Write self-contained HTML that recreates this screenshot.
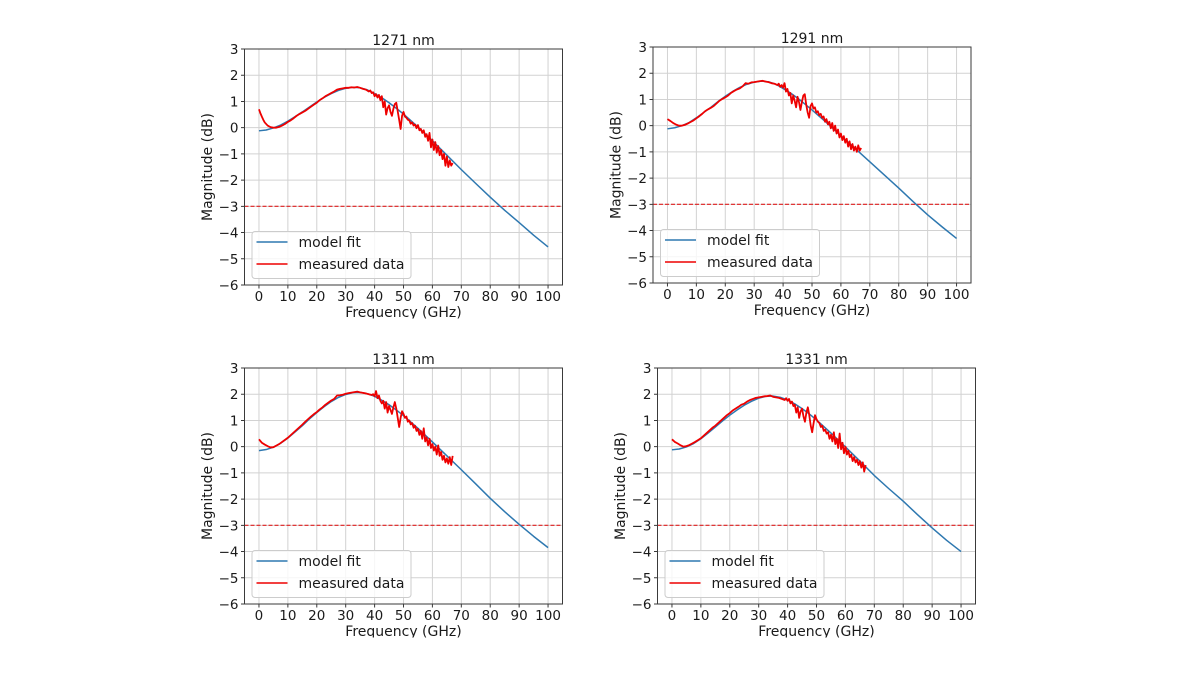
<!DOCTYPE html>
<html><head><meta charset="utf-8"><style>
html,body{margin:0;padding:0;background:#fff;}
svg{display:block;}
text{font-family:"DejaVu Sans","Liberation Sans",sans-serif;fill:#1a1a1a;}
.tk{font-size:13.5px;}
.lb{font-size:14px;}
.grid{stroke:#d2d2d2;stroke-width:1;fill:none;}
.spine{stroke:#3a3a3a;stroke-width:1;fill:none;}
.tick{stroke:#3a3a3a;stroke-width:1;}
.model{fill:none;stroke:#2e78b0;stroke-width:1.5;stroke-linejoin:round;}
.meas{fill:none;stroke:#ee0000;stroke-width:1.8;stroke-linejoin:round;}
.dash{stroke:#e02020;stroke-width:1.2;stroke-dasharray:4,2;}
</style></head><body>
<svg width="1200" height="676" viewBox="0 0 1200 676" xmlns="http://www.w3.org/2000/svg">
<defs>
<clipPath id="xlclip"><rect x="-80" y="200" width="480" height="69.5"/></clipPath>
</defs>
<rect width="1200" height="676" fill="#fff"/>

<!-- ================= PLOT 1 ================= -->
<g transform="translate(244.5,49)">
<path class="grid" d="M14.46,0V236M43.37,0V236M72.28,0V236M101.19,0V236M130.10,0V236M159.01,0V236M187.91,0V236M216.82,0V236M245.73,0V236M274.64,0V236M303.55,0V236M0,26.22H318M0,52.44H318M0,78.67H318M0,104.89H318M0,131.11H318M0,157.33H318M0,183.56H318M0,209.78H318"/>
<line class="dash" x1="0" y1="157.33" x2="318" y2="157.33"/>
<g transform="translate(14.455,78.667) scale(2.891,-26.222)">
<polyline class="model" vector-effect="non-scaling-stroke" points="0,-0.12 2.5,-0.09 5,-0.01 7.5,0.1 10,0.25 12.5,0.42 15,0.6 17.5,0.79 20,0.98 22.5,1.15 25,1.3 27.5,1.42 30,1.5 32.5,1.54 35,1.52 37.5,1.44 40,1.3 42.5,1.14 45,0.95 47.5,0.74 50,0.52 55,0.03 60,-0.5 65,-1.05 70,-1.6 75,-2.13 80,-2.65 85,-3.15 90,-3.62 95,-4.1 100,-4.55"/>
<polyline class="meas" vector-effect="non-scaling-stroke" points="0,0.7 0.5,0.55 1,0.42 1.5,0.3 2,0.2 3,0.08 4,0.02 5,0 6,0 7,0.03 8,0.08 9,0.14 10,0.22 11,0.28 12,0.36 13,0.45 14,0.52 15,0.58 16,0.64 17,0.72 18,0.8 19,0.88 20,0.95 21,1.05 22,1.12 23,1.2 24,1.26 25,1.32 26,1.38 27,1.45 28,1.48 29,1.5 30,1.52 31,1.52 32,1.54 33,1.53 34,1.55 35,1.52 36,1.48 37,1.45 38,1.38 38.5,1.42 39,1.32 39.5,1.35 40,1.2 40.5,1.28 41,1.15 41.5,1.25 42,1.05 42.5,1.2 43,0.78 43.5,1 44,0.5 44.5,0.75 45,0.85 45.5,0.6 46,0.45 46.5,0.72 47,0.9 47.5,0.95 48,0.62 48.5,0.3 49,-0.05 49.5,0.45 50,0.6 50.5,0.42 51,0.38 51.5,0.3 52,0.28 52.5,0.15 53,0.2 53.5,0.08 54,0.12 54.5,-0.02 55,0.1 55.5,-0.1 56,-0.05 56.5,-0.2 57,-0.1 57.5,-0.35 58,-0.25 58.5,-0.5 59,-0.2 59.5,-0.75 60,-0.45 60.5,-0.85 61,-0.55 61.5,-0.95 62,-0.7 62.5,-1.05 63,-0.85 63.5,-1.2 64,-1 64.5,-1.45 65,-1.1 65.5,-1.5 66,-1.25 66.5,-1.45 67,-1.35"/>
</g>
<rect class="spine" x="0" y="0" width="318" height="236"/>
<path class="tick" d="M14.46,236v3.5M43.37,236v3.5M72.28,236v3.5M101.19,236v3.5M130.10,236v3.5M159.01,236v3.5M187.91,236v3.5M216.82,236v3.5M245.73,236v3.5M274.64,236v3.5M303.55,236v3.5M0,0h-3.5M0,26.22h-3.5M0,52.44h-3.5M0,78.67h-3.5M0,104.89h-3.5M0,131.11h-3.5M0,157.33h-3.5M0,183.56h-3.5M0,209.78h-3.5M0,236h-3.5"/>
<g class="tk" text-anchor="end">
<text x="-6" y="5">3</text><text x="-6" y="31.22">2</text><text x="-6" y="57.44">1</text><text x="-6" y="83.67">0</text><text x="-6" y="109.89">−1</text><text x="-6" y="136.11">−2</text><text x="-6" y="162.33">−3</text><text x="-6" y="188.56">−4</text><text x="-6" y="214.78">−5</text><text x="-6" y="241">−6</text>
</g>
<g class="tk" text-anchor="middle">
<text x="14.46" y="252">0</text><text x="43.37" y="252">10</text><text x="72.28" y="252">20</text><text x="101.19" y="252">30</text><text x="130.10" y="252">40</text><text x="159.01" y="252">50</text><text x="187.91" y="252">60</text><text x="216.82" y="252">70</text><text x="245.73" y="252">80</text><text x="274.64" y="252">90</text><text x="303.55" y="252">100</text>
</g>
<text class="lb" x="159" y="-4" text-anchor="middle">1271 nm</text>
<text class="lb" x="159" y="268" text-anchor="middle" clip-path="url(#xlclip)">Frequency (GHz)</text>
<text class="lb" transform="translate(-32.5,118) rotate(-90)" text-anchor="middle">Magnitude (dB)</text>
<rect x="7.5" y="182.5" width="159" height="47" rx="3" fill="#fff" fill-opacity="0.8" stroke="#cccccc" stroke-width="1"/>
<line x1="12" y1="193" x2="43" y2="193" stroke="#2e78b0" stroke-width="1.5"/>
<line x1="12" y1="215" x2="43" y2="215" stroke="#ee0000" stroke-width="1.5"/>
<text class="lb" x="54" y="198">model fit</text>
<text class="lb" x="54" y="220">measured data</text>
</g>

<!-- ================= PLOT 2 ================= -->
<g transform="translate(653,47)">
<path class="grid" d="M14.46,0V236M43.37,0V236M72.28,0V236M101.19,0V236M130.10,0V236M159.01,0V236M187.91,0V236M216.82,0V236M245.73,0V236M274.64,0V236M303.55,0V236M0,26.22H318M0,52.44H318M0,78.67H318M0,104.89H318M0,131.11H318M0,157.33H318M0,183.56H318M0,209.78H318"/>
<line class="dash" x1="0" y1="157.33" x2="318" y2="157.33"/>
<g transform="translate(14.455,78.667) scale(2.891,-26.222)">
<polyline class="model" vector-effect="non-scaling-stroke" points="0,-0.12 2.5,-0.08 5,0 7.5,0.12 10,0.3 12.5,0.5 15,0.7 17.5,0.92 20,1.12 22.5,1.3 25,1.46 27.5,1.58 30,1.66 32.5,1.7 35,1.67 37.5,1.58 40,1.42 42.5,1.25 45,1.05 47.5,0.83 50,0.6 55,0.12 60,-0.38 65,-0.88 70,-1.38 75,-1.88 80,-2.38 85,-2.9 90,-3.4 95,-3.86 100,-4.3"/>
<polyline class="meas" vector-effect="non-scaling-stroke" points="0,0.25 1,0.18 2,0.1 3,0.04 4,0 5,0 6,0.03 7,0.08 8,0.14 9,0.2 10,0.28 11,0.36 12,0.45 13,0.55 14,0.62 15,0.68 16,0.75 17,0.85 18,0.95 19,1.02 20,1.08 21,1.15 22,1.25 23,1.32 24,1.38 25,1.42 26,1.5 27,1.62 28,1.6 29,1.65 30,1.66 31,1.68 32,1.7 33,1.71 34,1.68 35,1.66 36,1.62 37,1.6 38,1.55 38.5,1.6 39,1.48 39.5,1.55 40,1.45 40.5,1.62 41,1.3 41.5,1.4 42,1.15 42.5,1.25 43,0.85 43.5,1.15 44,0.95 44.5,0.7 45,1.1 45.5,0.9 46,0.6 46.5,0.9 47,1.15 47.5,1.2 48,0.8 48.5,0.5 49,0.3 49.5,0.75 50,0.85 50.5,0.65 51,0.7 51.5,0.5 52,0.55 52.5,0.4 53,0.45 53.5,0.3 54,0.35 54.5,0.15 55,0.25 55.5,0.05 56,0.15 56.5,-0.1 57,0.1 57.5,-0.2 58,0 58.5,-0.3 59,-0.15 59.5,-0.45 60,-0.3 60.5,-0.55 61,-0.4 61.5,-0.65 62,-0.5 62.5,-0.8 63,-0.6 63.5,-0.9 64,-0.7 64.5,-0.95 65,-0.8 65.5,-1 66,-0.75 66.5,-0.95 67,-0.85"/>
</g>
<rect class="spine" x="0" y="0" width="318" height="236"/>
<path class="tick" d="M14.46,236v3.5M43.37,236v3.5M72.28,236v3.5M101.19,236v3.5M130.10,236v3.5M159.01,236v3.5M187.91,236v3.5M216.82,236v3.5M245.73,236v3.5M274.64,236v3.5M303.55,236v3.5M0,0h-3.5M0,26.22h-3.5M0,52.44h-3.5M0,78.67h-3.5M0,104.89h-3.5M0,131.11h-3.5M0,157.33h-3.5M0,183.56h-3.5M0,209.78h-3.5M0,236h-3.5"/>
<g class="tk" text-anchor="end">
<text x="-6" y="5">3</text><text x="-6" y="31.22">2</text><text x="-6" y="57.44">1</text><text x="-6" y="83.67">0</text><text x="-6" y="109.89">−1</text><text x="-6" y="136.11">−2</text><text x="-6" y="162.33">−3</text><text x="-6" y="188.56">−4</text><text x="-6" y="214.78">−5</text><text x="-6" y="241">−6</text>
</g>
<g class="tk" text-anchor="middle">
<text x="14.46" y="252">0</text><text x="43.37" y="252">10</text><text x="72.28" y="252">20</text><text x="101.19" y="252">30</text><text x="130.10" y="252">40</text><text x="159.01" y="252">50</text><text x="187.91" y="252">60</text><text x="216.82" y="252">70</text><text x="245.73" y="252">80</text><text x="274.64" y="252">90</text><text x="303.55" y="252">100</text>
</g>
<text class="lb" x="159" y="-4" text-anchor="middle">1291 nm</text>
<text class="lb" x="159" y="268" text-anchor="middle" clip-path="url(#xlclip)">Frequency (GHz)</text>
<text class="lb" transform="translate(-32.5,118) rotate(-90)" text-anchor="middle">Magnitude (dB)</text>
<rect x="7.5" y="182.5" width="159" height="47" rx="3" fill="#fff" fill-opacity="0.8" stroke="#cccccc" stroke-width="1"/>
<line x1="12" y1="193" x2="43" y2="193" stroke="#2e78b0" stroke-width="1.5"/>
<line x1="12" y1="215" x2="43" y2="215" stroke="#ee0000" stroke-width="1.5"/>
<text class="lb" x="54" y="198">model fit</text>
<text class="lb" x="54" y="220">measured data</text>
</g>

<!-- ================= PLOT 3 ================= -->
<g transform="translate(244.5,368)">
<path class="grid" d="M14.46,0V236M43.37,0V236M72.28,0V236M101.19,0V236M130.10,0V236M159.01,0V236M187.91,0V236M216.82,0V236M245.73,0V236M274.64,0V236M303.55,0V236M0,26.22H318M0,52.44H318M0,78.67H318M0,104.89H318M0,131.11H318M0,157.33H318M0,183.56H318M0,209.78H318"/>
<line class="dash" x1="0" y1="157.33" x2="318" y2="157.33"/>
<g transform="translate(14.455,78.667) scale(2.891,-26.222)">
<polyline class="model" vector-effect="non-scaling-stroke" points="0,-0.15 2.5,-0.11 5,-0.02 7.5,0.13 10,0.33 12.5,0.56 15,0.8 17.5,1.06 20,1.3 22.5,1.52 25,1.72 27.5,1.88 30,1.99 32.5,2.06 35,2.07 37.5,2.02 40,1.92 42.5,1.77 45,1.6 47.5,1.4 50,1.18 55,0.7 60,0.18 65,-0.35 70,-0.88 75,-1.42 80,-1.97 85,-2.48 90,-2.96 95,-3.42 100,-3.85"/>
<polyline class="meas" vector-effect="non-scaling-stroke" points="0,0.28 1,0.15 2,0.08 3,0.02 4,-0.03 5,-0.02 6,0.04 7,0.1 8,0.18 9,0.26 10,0.34 11,0.44 12,0.54 13,0.64 14,0.74 15,0.84 16,0.95 17,1.05 18,1.15 19,1.24 20,1.32 21,1.42 22,1.5 23,1.6 24,1.68 25,1.76 26,1.82 27,1.95 28,1.96 29,1.98 30,2.02 31,2.04 32,2.06 33,2.08 34,2.1 35,2.07 36,2.05 37,2.03 38,2 39,1.97 39.5,2 40,1.92 40.5,2.12 41,1.85 41.5,1.95 42,1.75 42.5,1.65 43,1.75 43.5,1.45 44,1.7 44.5,1.3 45,1.55 45.5,1.4 46,1.25 46.5,1.5 47,1.7 47.5,1.45 48,1.1 48.5,0.75 49,1.1 49.5,1.35 50,1.25 50.5,1.1 51,1.15 51.5,0.95 52,1 52.5,0.85 53,0.9 53.5,0.72 54,0.8 54.5,0.6 55,0.68 55.5,0.45 56,0.6 56.5,0.3 57,0.7 57.5,0.2 58,0.35 58.5,0.05 59,0.3 59.5,-0.05 60,0.1 60.5,-0.15 61,0 61.5,-0.3 62,0.05 62.5,-0.35 63,-0.2 63.5,-0.5 64,-0.35 64.5,-0.6 65,-0.45 65.5,-0.65 66,-0.4 66.5,-0.7 67,-0.35"/>
</g>
<rect class="spine" x="0" y="0" width="318" height="236"/>
<path class="tick" d="M14.46,236v3.5M43.37,236v3.5M72.28,236v3.5M101.19,236v3.5M130.10,236v3.5M159.01,236v3.5M187.91,236v3.5M216.82,236v3.5M245.73,236v3.5M274.64,236v3.5M303.55,236v3.5M0,0h-3.5M0,26.22h-3.5M0,52.44h-3.5M0,78.67h-3.5M0,104.89h-3.5M0,131.11h-3.5M0,157.33h-3.5M0,183.56h-3.5M0,209.78h-3.5M0,236h-3.5"/>
<g class="tk" text-anchor="end">
<text x="-6" y="5">3</text><text x="-6" y="31.22">2</text><text x="-6" y="57.44">1</text><text x="-6" y="83.67">0</text><text x="-6" y="109.89">−1</text><text x="-6" y="136.11">−2</text><text x="-6" y="162.33">−3</text><text x="-6" y="188.56">−4</text><text x="-6" y="214.78">−5</text><text x="-6" y="241">−6</text>
</g>
<g class="tk" text-anchor="middle">
<text x="14.46" y="252">0</text><text x="43.37" y="252">10</text><text x="72.28" y="252">20</text><text x="101.19" y="252">30</text><text x="130.10" y="252">40</text><text x="159.01" y="252">50</text><text x="187.91" y="252">60</text><text x="216.82" y="252">70</text><text x="245.73" y="252">80</text><text x="274.64" y="252">90</text><text x="303.55" y="252">100</text>
</g>
<text class="lb" x="159" y="-4" text-anchor="middle">1311 nm</text>
<text class="lb" x="159" y="268" text-anchor="middle" clip-path="url(#xlclip)">Frequency (GHz)</text>
<text class="lb" transform="translate(-32.5,118) rotate(-90)" text-anchor="middle">Magnitude (dB)</text>
<rect x="7.5" y="182.5" width="159" height="47" rx="3" fill="#fff" fill-opacity="0.8" stroke="#cccccc" stroke-width="1"/>
<line x1="12" y1="193" x2="43" y2="193" stroke="#2e78b0" stroke-width="1.5"/>
<line x1="12" y1="215" x2="43" y2="215" stroke="#ee0000" stroke-width="1.5"/>
<text class="lb" x="54" y="198">model fit</text>
<text class="lb" x="54" y="220">measured data</text>
</g>

<!-- ================= PLOT 4 ================= -->
<g transform="translate(657.5,368)">
<path class="grid" d="M14.46,0V236M43.37,0V236M72.28,0V236M101.19,0V236M130.10,0V236M159.01,0V236M187.91,0V236M216.82,0V236M245.73,0V236M274.64,0V236M303.55,0V236M0,26.22H318M0,52.44H318M0,78.67H318M0,104.89H318M0,131.11H318M0,157.33H318M0,183.56H318M0,209.78H318"/>
<line class="dash" x1="0" y1="157.33" x2="318" y2="157.33"/>
<g transform="translate(14.455,78.667) scale(2.891,-26.222)">
<polyline class="model" vector-effect="non-scaling-stroke" points="0,-0.12 2.5,-0.09 5,-0.01 7.5,0.12 10,0.3 12.5,0.52 15,0.75 17.5,0.98 20,1.2 22.5,1.4 25,1.58 27.5,1.73 30,1.85 32.5,1.92 35,1.93 37.5,1.88 40,1.78 42.5,1.63 45,1.45 47.5,1.25 50,1.02 55,0.52 60,-0.01 65,-0.55 70,-1.1 75,-1.6 80,-2.08 85,-2.6 90,-3.1 95,-3.57 100,-4"/>
<polyline class="meas" vector-effect="non-scaling-stroke" points="0,0.28 1,0.18 2,0.12 3,0.05 4,0 5,0.02 6,0.06 7,0.12 8,0.18 9,0.25 10,0.32 11,0.42 12,0.52 13,0.62 14,0.72 15,0.8 16,0.9 17,1 18,1.1 19,1.2 20,1.28 21,1.38 22,1.45 23,1.52 24,1.6 25,1.64 26,1.72 27,1.78 28,1.82 29,1.86 30,1.88 31,1.9 32,1.92 33,1.93 34,1.95 35,1.9 36,1.88 37,1.86 38,1.82 39,1.78 39.5,1.85 40,1.75 40.5,1.82 41,1.65 41.5,1.72 42,1.55 42.5,1.6 43,1.3 43.5,1.5 44,1.1 44.5,1.35 45,1.45 45.5,1.15 46,0.95 46.5,1.3 47,1.5 47.5,1.2 48,0.8 48.5,0.55 49,0.9 49.5,1.2 50,1.05 50.5,0.95 51,0.9 51.5,0.75 52,0.8 52.5,0.6 53,0.65 53.5,0.5 54,0.55 54.5,0.3 55,0.45 55.5,0.2 56,0.55 56.5,0.1 57,0.3 57.5,-0.05 58,0.5 58.5,-0.1 59,0.15 59.5,-0.25 60,0 60.5,-0.3 61,-0.15 61.5,-0.4 62,-0.3 62.5,-0.55 63,-0.4 63.5,-0.6 64,-0.5 64.5,-0.7 65,-0.55 65.5,-0.8 66,-0.6 66.5,-0.95 67,-0.7"/>
</g>
<rect class="spine" x="0" y="0" width="318" height="236"/>
<path class="tick" d="M14.46,236v3.5M43.37,236v3.5M72.28,236v3.5M101.19,236v3.5M130.10,236v3.5M159.01,236v3.5M187.91,236v3.5M216.82,236v3.5M245.73,236v3.5M274.64,236v3.5M303.55,236v3.5M0,0h-3.5M0,26.22h-3.5M0,52.44h-3.5M0,78.67h-3.5M0,104.89h-3.5M0,131.11h-3.5M0,157.33h-3.5M0,183.56h-3.5M0,209.78h-3.5M0,236h-3.5"/>
<g class="tk" text-anchor="end">
<text x="-6" y="5">3</text><text x="-6" y="31.22">2</text><text x="-6" y="57.44">1</text><text x="-6" y="83.67">0</text><text x="-6" y="109.89">−1</text><text x="-6" y="136.11">−2</text><text x="-6" y="162.33">−3</text><text x="-6" y="188.56">−4</text><text x="-6" y="214.78">−5</text><text x="-6" y="241">−6</text>
</g>
<g class="tk" text-anchor="middle">
<text x="14.46" y="252">0</text><text x="43.37" y="252">10</text><text x="72.28" y="252">20</text><text x="101.19" y="252">30</text><text x="130.10" y="252">40</text><text x="159.01" y="252">50</text><text x="187.91" y="252">60</text><text x="216.82" y="252">70</text><text x="245.73" y="252">80</text><text x="274.64" y="252">90</text><text x="303.55" y="252">100</text>
</g>
<text class="lb" x="159" y="-4" text-anchor="middle">1331 nm</text>
<text class="lb" x="159" y="268" text-anchor="middle" clip-path="url(#xlclip)">Frequency (GHz)</text>
<text class="lb" transform="translate(-32.5,118) rotate(-90)" text-anchor="middle">Magnitude (dB)</text>
<rect x="7.5" y="182.5" width="159" height="47" rx="3" fill="#fff" fill-opacity="0.8" stroke="#cccccc" stroke-width="1"/>
<line x1="12" y1="193" x2="43" y2="193" stroke="#2e78b0" stroke-width="1.5"/>
<line x1="12" y1="215" x2="43" y2="215" stroke="#ee0000" stroke-width="1.5"/>
<text class="lb" x="54" y="198">model fit</text>
<text class="lb" x="54" y="220">measured data</text>
</g>
</svg>
</body></html>
